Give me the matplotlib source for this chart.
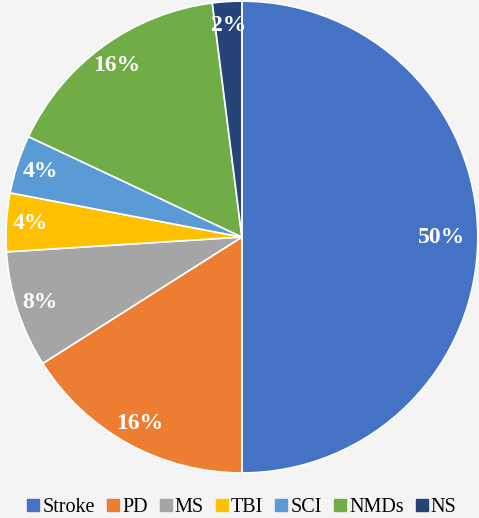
import matplotlib.pyplot as plt
import matplotlib.patches as mpatches

plt.rcParams['font.family'] = ['Liberation Serif', 'DejaVu Serif']

labels = ['Stroke', 'PD', 'MS', 'TBI', 'SCI', 'NMDs', 'NS']
shares = [50, 16, 8, 4, 4, 16, 2]
colors = ['#4472C4', '#ED7D31', '#A5A5A5', '#FFC000', '#5B9BD5', '#70AD47', '#264478']

fig = plt.figure(figsize=(4.79, 5.18), dpi=100)
fig.patch.set_facecolor('#f4f4f4')
ax = fig.add_axes([0.0125, 0.0869, 0.985, 0.911])

wedges, texts, autotexts = ax.pie(
    shares, colors=colors, startangle=90, counterclock=False,
    autopct='%d%%', pctdistance=0.9,
    wedgeprops=dict(edgecolor='white', linewidth=1.2),
    textprops=dict(color='white', fontsize=17, fontweight='bold'))
# the big slice's label sits a bit further in
x, y = autotexts[0].get_position()
autotexts[0].set_position((x * 0.94, y * 0.94))
ax.set_xlim(-1, 1)
ax.set_ylim(-1, 1)
ax.set_aspect('equal')

handles = [mpatches.Patch(color=c) for c in colors]
fig.legend(handles, labels, loc='center', bbox_to_anchor=(0.505, 0.02),
           ncol=7, frameon=False, fontsize=14.5, handlelength=0.6, handleheight=0.6,
           handletextpad=0.15, columnspacing=0.6)

fig.savefig('out.png', dpi=100, facecolor=fig.get_facecolor())
